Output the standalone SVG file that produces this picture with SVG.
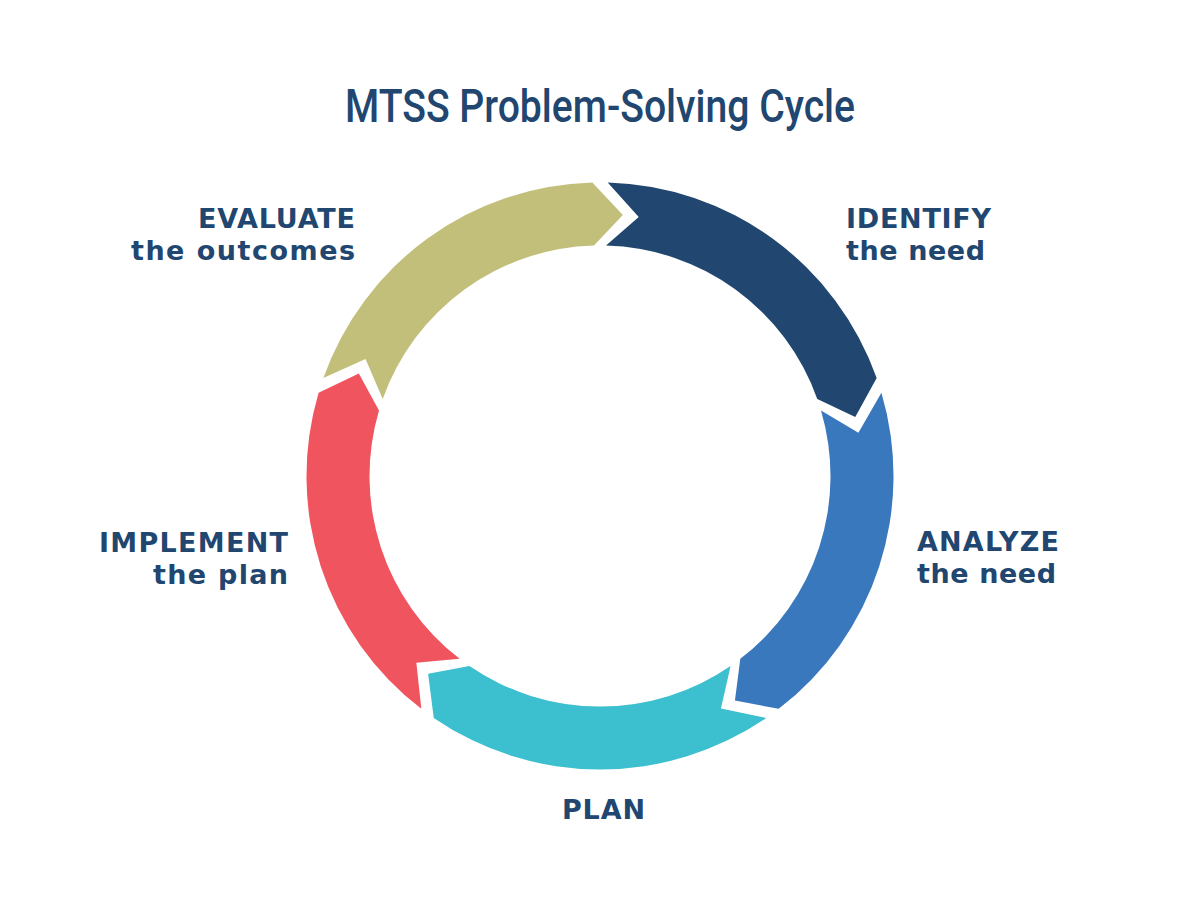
<svg xmlns="http://www.w3.org/2000/svg" width="1200" height="900" viewBox="0 0 1200 900">
  <style>
    .title { font-family: Roboto, "Liberation Sans", sans-serif; font-weight: 500; font-size: 47px; fill: #21466F; }
    .lbl { font-family: "DejaVu Sans", "Liberation Sans", sans-serif; font-weight: 700; font-size: 27px; fill: #21466F; }
  </style>
  <defs>
    <path id="seg" d="M -276.67 -97.97 A 293.5 293.5 0 0 1 -7.68 -293.40 L 22.84 -261.00 L -6.03 -230.42 A 230.5 230.5 0 0 0 -217.28 -76.94 L -234.47 -116.90 Z"/>
  </defs>
  <rect width="1200" height="900" fill="#ffffff"/>
  <text class="title" x="600" y="122" text-anchor="middle" textLength="510" lengthAdjust="spacingAndGlyphs">MTSS Problem-Solving Cycle</text>

  <g id="evaluate">
    <use href="#seg" transform="translate(600 476)" fill="#C2BF7A"/>
    <text class="lbl" x="355" y="228" text-anchor="end" textLength="157">EVALUATE</text>
    <text class="lbl" x="355" y="260" text-anchor="end" textLength="224">the outcomes</text>
  </g>
  <g id="identify">
    <use href="#seg" transform="translate(600 476) rotate(72)" fill="#21466F"/>
    <text class="lbl" x="846" y="228" textLength="145">IDENTIFY</text>
    <text class="lbl" x="846" y="260" textLength="139">the need</text>
  </g>
  <g id="analyze">
    <use href="#seg" transform="translate(600 476) rotate(144)" fill="#3A78BD"/>
    <text class="lbl" x="917" y="551" textLength="142">ANALYZE</text>
    <text class="lbl" x="917" y="583" textLength="139">the need</text>
  </g>
  <g id="plan">
    <use href="#seg" transform="translate(600 476) rotate(216)" fill="#3CBFCE"/>
    <text class="lbl" x="562" y="819" textLength="83">PLAN</text>
  </g>
  <g id="implement">
    <use href="#seg" transform="translate(600 476) rotate(288)" fill="#F0555F"/>
    <text class="lbl" x="288" y="552" text-anchor="end" textLength="189">IMPLEMENT</text>
    <text class="lbl" x="288" y="584" text-anchor="end" textLength="135">the plan</text>
  </g>
  <g id="connectors"></g>
</svg>
